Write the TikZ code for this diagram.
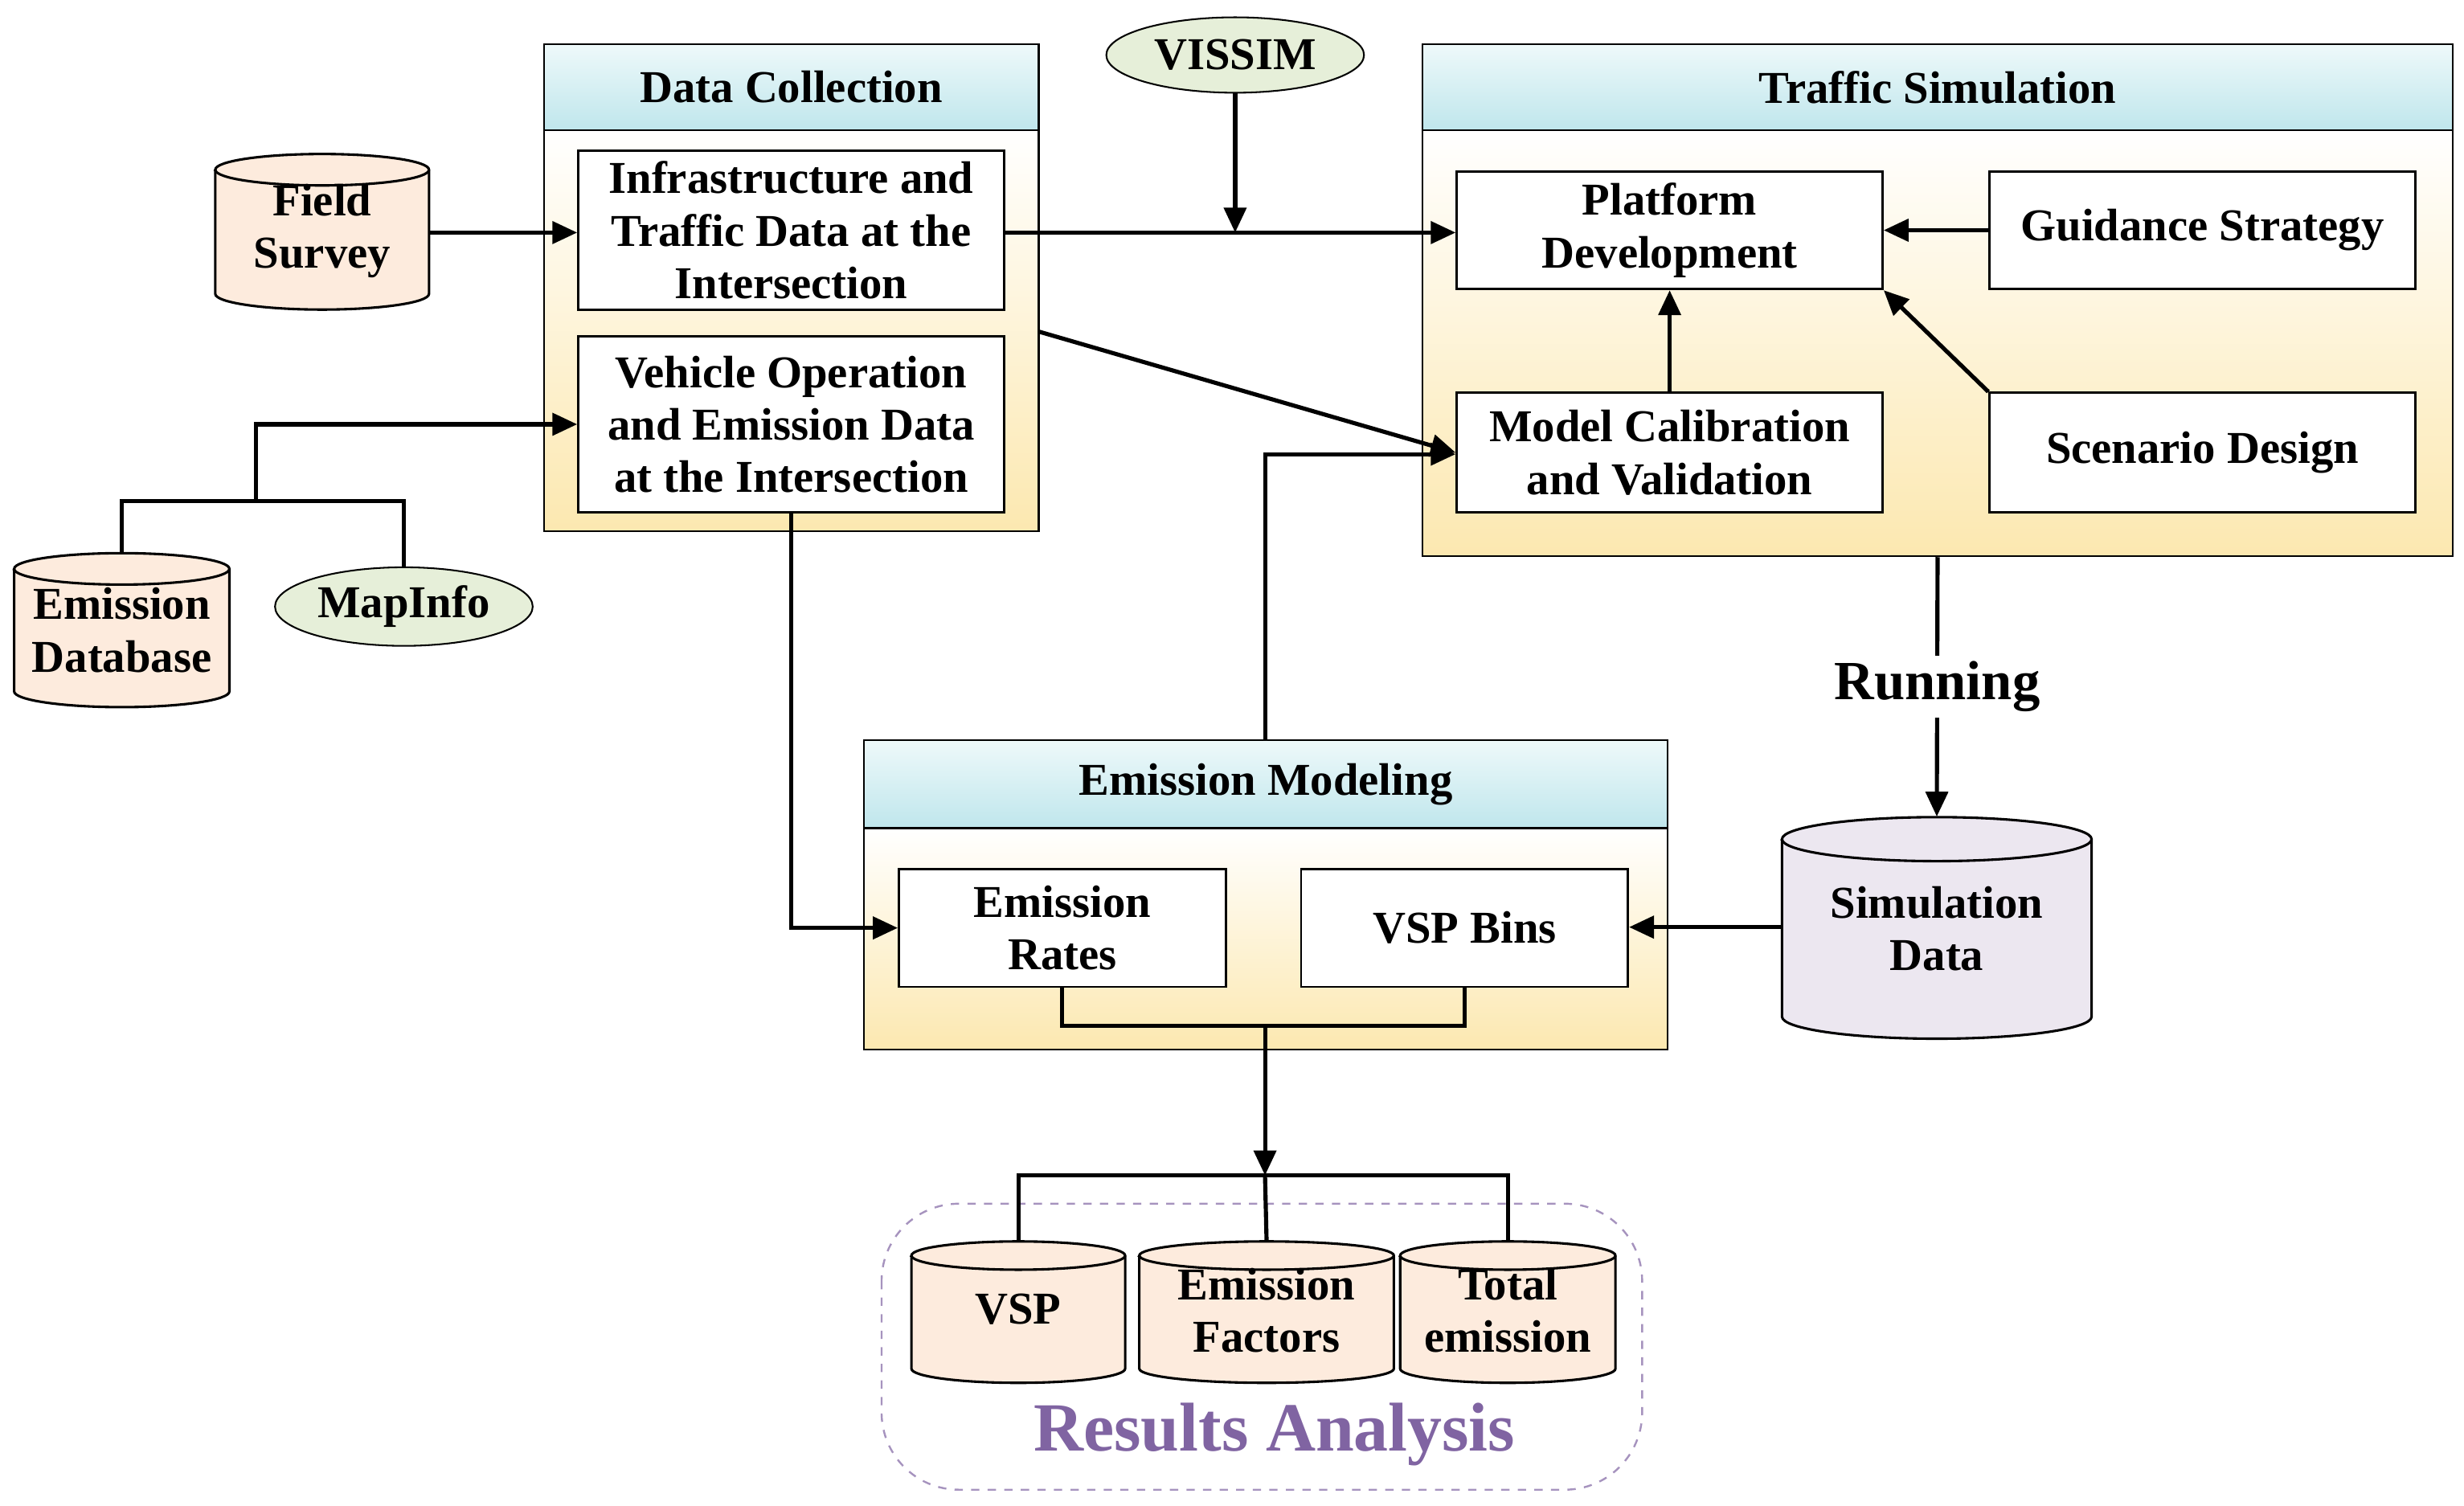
\documentclass[tikz,border=0pt]{standalone}
\usepackage{fontspec}
\setmainfont{Liberation Serif}
\usetikzlibrary{shapes.geometric,arrows.meta,patterns}
\definecolor{hdtop}{HTML}{EEF9FA}
\definecolor{hdbot}{HTML}{BFE6EC}
\definecolor{bdbot}{HTML}{FCE8B0}
\definecolor{peach}{HTML}{FDEBDD}
\definecolor{lav}{HTML}{ECE7F0}
\definecolor{ellg}{HTML}{E6EFD9}
\definecolor{purp}{HTML}{8064A2}
\newcommand{\mycyl}[8]{%
 \pgfmathsetmacro\rxx{(#3-#2)/2*0.02}%
 \pgfmathsetmacro\ryy{#6*0.02}%
 \path[draw,line width=0.9pt,fill=#7] (#2,#4+#6) -- (#2,#5-#6) arc[start angle=180,end angle=360,x radius=\rxx cm,y radius=\ryy cm] -- (#3,#4+#6) arc[start angle=0,end angle=180,x radius=\rxx cm,y radius=\ryy cm] -- cycle;
 \draw[line width=0.9pt] (#2,#4+#6) arc[start angle=180,end angle=360,x radius=\rxx cm,y radius=\ryy cm];
 \node[align=center,inner sep=0pt,minimum width=(#3-#2)*0.02cm,minimum height=(#5-#4)*0.02cm] (#1) at ({(#2+#3)/2},{(#4+#5)/2}) {};
}
\begin{document}
\begin{tikzpicture}[x=0.02cm,y=-0.02cm,
 txt/.style={font=\bfseries\fontsize{16.5}{19}\selectfont,align=center},
 box/.style={draw,fill=white,line width=0.8pt,txt,inner sep=0pt},
 hdr/.style={draw,line width=0.6pt,top color=hdtop,bottom color=hdbot,txt,inner sep=0pt},
 bdy/.style={draw,line width=0.6pt,top color=white,bottom color=bdbot,inner sep=0pt},
 ell/.style={draw,ellipse,fill=ellg,line width=0.6pt,txt,inner sep=0pt},
 arr/.style={line width=1.5pt,-{Triangle[length=9pt,width=8pt]}},
 ln/.style={line width=1.5pt}]
\useasboundingbox (0,0) rectangle (1568,958);
% Data collection
\node[bdy,minimum width=315*0.02cm,minimum height=255*0.02cm] (dcb) at (503.5,210.5) {};
\node[hdr,minimum width=315*0.02cm,minimum height=55*0.02cm] (dc) at (503.5,55.5) {Data Collection};
\node[box,minimum width=271*0.02cm,minimum height=101*0.02cm] (inf) at (503.5,146.5) {Infrastructure and\\Traffic Data at the\\Intersection};
\node[box,minimum width=271*0.02cm,minimum height=112*0.02cm] (veh) at (503.5,270) {Vehicle Operation\\and Emission Data\\at the Intersection};
% Traffic simulation
\node[bdy,minimum width=656*0.02cm,minimum height=271*0.02cm] (tsb) at (1233,218.5) {};
\node[hdr,minimum width=656*0.02cm,minimum height=55*0.02cm] (ts) at (1233,55.5) {Traffic Simulation};
\node[box,minimum width=271*0.02cm,minimum height=75*0.02cm] (pd) at (1062.5,146.5) {Platform\\Development};
\node[box,minimum width=271*0.02cm,minimum height=75*0.02cm] (gs) at (1401.5,146.5) {Guidance Strategy};
\node[box,minimum width=271*0.02cm,minimum height=76*0.02cm] (mc) at (1062.5,288) {Model Calibration\\and Validation};
\node[box,minimum width=271*0.02cm,minimum height=76*0.02cm] (sd) at (1401.5,288) {Scenario Design};
% ellipses
\node[ell,minimum width=164*0.02cm,minimum height=48*0.02cm] (vis) at (786,35) {VISSIM};
\node[ell,minimum width=164*0.02cm,minimum height=50*0.02cm] (mi) at (257,386) {MapInfo};
% cylinders
\mycyl{fs}{137}{273}{98}{197}{10}{peach}{}
\node[txt] at (205,147) {Field\\Survey};
\mycyl{edb}{9}{146}{352}{450}{10}{peach}{}
\node[txt] at (77.5,401) {Emission\\Database};
% Emission modeling
\node[bdy,minimum width=511*0.02cm,minimum height=141*0.02cm] (emb) at (805.5,597.5) {};
\node[hdr,minimum width=511*0.02cm,minimum height=56*0.02cm] (em) at (805.5,499) {Emission Modeling};
\node[box,minimum width=208*0.02cm,minimum height=75*0.02cm] (er) at (676,590.5) {Emission\\Rates};
\node[box,minimum width=208*0.02cm,minimum height=75*0.02cm] (vb) at (932,590.5) {VSP Bins};
\mycyl{sim}{1134}{1331}{520}{661}{14}{lav}{}
\node[txt] at (1232.5,591) {Simulation\\Data};
% Results
\draw[purp!70,dashed,line width=0.7pt,rounded corners=28pt] (561,766) rectangle (1045,948);
\node[font=\bfseries\fontsize{25}{27}\selectfont,text=purp] (ra) at (811,913) {Results Analysis};
\mycyl{c1}{580}{716}{790}{880}{9}{peach}{}
\node[txt] at (648,833) {VSP};
\mycyl{c2}{725}{887}{790}{880}{9}{peach}{}
\node[txt] at (806,834) {Emission\\Factors};
\mycyl{c3}{891}{1028}{790}{880}{9}{peach}{}
\node[txt] at (959.5,834) {Total\\emission};
% connectors
\draw[arr] (fs.east|-0,148) -- (inf.west|-0,148);
\draw[arr] (inf.east|-0,148) -- (pd.west|-0,148);
\draw[arr] (vis.south) -- (786,148);
\draw[arr] (gs.west) -- (pd.east);
\draw[arr] (sd.north west) -- (pd.south east);
\draw[arr] (mc.north) -- (pd.south);
\draw[arr] (661,211) -- (mc.west);
\draw[arr] (em.north -| 805,0) -- (805,289) -- (mc.west|-0,289);
\coordinate (j1) at (163,319);
\draw[ln] (edb.north) |- (j1) -| (mi.north);
\draw[arr] (j1) -- (163,270) -- (veh.west);
\draw[arr] (veh.south) |- (er.west);
\draw[arr] (sim.west|-0,590) -- (vb.east|-0,590);
\draw[arr] (tsb.south) -- node[fill=white,font=\bfseries\fontsize{20}{22}\selectfont,inner sep=2pt] {Running} (sim.north);
\coordinate (j2) at (805,653);
\coordinate (j3) at (805,748);
\draw[ln] (er.south) |- (j2) -| (vb.south);
\draw[arr] (j2) -- (j3);
\draw[ln] (c1.north) |- (j3) -| (c3.north);
\draw[ln] (j3) -- (c2.north);
\end{tikzpicture}
\end{document}
